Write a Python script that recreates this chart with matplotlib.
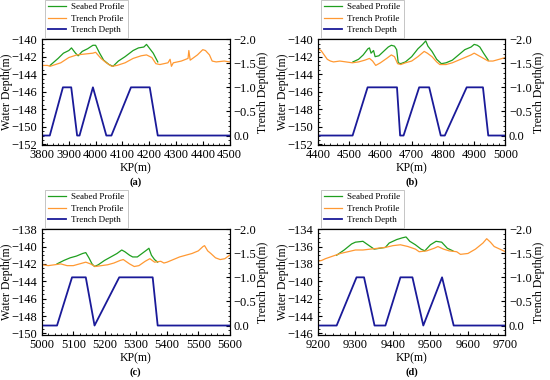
import matplotlib
matplotlib.use('Agg')
import matplotlib.pyplot as plt
from matplotlib.ticker import MultipleLocator, AutoMinorLocator

plt.rcParams['font.family'] = ['Liberation Serif', 'DejaVu Serif']

# ---- panel (a) ----
a_trench_kp = [3800, 3820, 3830, 3870, 3900, 3930, 3960, 3990, 4000, 4020, 4040, 4060, 4080,
               4110, 4140, 4170, 4190, 4210, 4225, 4240, 4270, 4278, 4283, 4290, 4320, 4345,
               4348, 4353, 4380, 4400, 4410, 4425, 4435, 4450, 4480, 4500]
a_trench_z = [-143.0, -143.0, -143.1, -142.7, -142.1, -141.8, -141.7, -141.6, -141.5, -142.2,
              -142.7, -143.1, -143.0, -142.7, -142.2, -141.9, -141.8, -142.1, -142.8, -142.9,
              -142.7, -142.3, -143.1, -142.7, -142.5, -142.2, -141.3, -142.4, -141.8, -141.2,
              -141.3, -141.8, -142.5, -142.6, -142.5, -142.6]
a_seabed_kp = [3830, 3860, 3880, 3900, 3910, 3925, 3935, 3950, 3970, 3990, 4000, 4015, 4030,
               4050, 4065, 4085, 4110, 4140, 4160, 4180, 4190, 4200, 4215, 4232]
a_seabed_z = [-143.0, -142.2, -141.6, -141.3, -141.0, -141.6, -141.9, -141.4, -141.1, -140.7,
              -140.7, -141.6, -142.4, -142.9, -143.1, -142.5, -142.0, -141.3, -141.0, -140.9,
              -140.6, -141.0, -141.6, -142.6]
a_depth_kp = [3800, 3829, 3878, 3909, 3931, 3940, 3990, 4040, 4059, 4132, 4202, 4232, 4500]
a_depth = [0, 0, -1, -1, 0, 0, -1, 0, 0, -1, -1, 0, 0]

# ---- panel (b) ----
b_trench_kp = [4400, 4410, 4420, 4430, 4440, 4450, 4470, 4490, 4510, 4530, 4550, 4565, 4575,
               4585, 4600, 4620, 4635, 4645, 4655, 4665, 4680, 4700, 4720, 4740, 4750, 4765,
               4780, 4790, 4810, 4830, 4850, 4870, 4890, 4900, 4910, 4930, 4945, 4960, 4980, 5000]
b_trench_z = [-141.1, -141.3, -141.8, -142.3, -142.5, -142.6, -142.5, -142.6, -142.7, -142.6,
              -142.4, -142.2, -142.5, -143.0, -142.7, -142.2, -141.8, -142.0, -142.8, -142.9,
              -142.7, -142.5, -142.0, -141.4, -141.6, -142.0, -142.6, -142.9, -142.9, -142.7,
              -142.4, -142.1, -141.8, -141.6, -141.8, -142.2, -142.5, -142.5, -142.3, -142.1]
b_seabed_kp = [4512, 4530, 4545, 4560, 4565, 4570, 4578, 4583, 4595, 4610, 4625, 4635, 4645,
               4652, 4657, 4665, 4680, 4700, 4720, 4735, 4745, 4752, 4765, 4780, 4795, 4810,
               4830, 4850, 4870, 4890, 4900, 4910, 4918, 4930, 4945]
b_seabed_z = [-142.6, -142.3, -141.8, -141.1, -141.0, -141.6, -141.3, -142.0, -141.9, -141.4,
              -140.9, -140.7, -140.8, -141.2, -142.7, -142.8, -142.6, -142.0, -141.1, -140.6,
              -140.2, -140.8, -141.4, -142.3, -142.8, -142.7, -142.4, -141.8, -141.2, -140.9,
              -140.6, -140.7, -140.9, -141.6, -142.4]
b_depth_kp = [4400, 4511, 4559, 4653, 4663, 4674, 4724, 4756, 4793, 4806, 4876, 4928, 4945, 5000]
b_depth = [0, 0, -1, -1, 0, 0, -1, -1, 0, 0, -1, -1, 0, 0]

# ---- panel (c) ----
c_trench_kp = [5000, 5020, 5040, 5060, 5080, 5100, 5120, 5140, 5155, 5170, 5190, 5210, 5230,
               5250, 5260, 5280, 5295, 5310, 5330, 5345, 5360, 5380, 5390, 5400, 5420, 5440,
               5460, 5480, 5500, 5515, 5520, 5530, 5540, 5555, 5570, 5585, 5600]
c_trench_z = [-142.1, -142.2, -142.1, -142.0, -142.2, -142.2, -142.0, -141.8, -142.0, -142.3,
              -142.2, -142.1, -141.9, -141.6, -141.5, -142.0, -142.3, -142.2, -141.7, -141.4,
              -141.8, -141.7, -141.9, -141.8, -141.5, -141.2, -141.0, -140.8, -140.5, -140.0,
              -139.9, -140.5, -140.8, -141.3, -141.5, -141.4, -141.0]
c_seabed_kp = [5048, 5070, 5090, 5110, 5130, 5140, 5150, 5160, 5168, 5180, 5200, 5220, 5240,
               5255, 5265, 5280, 5290, 5305, 5320, 5335, 5342, 5350, 5360, 5370]
c_seabed_z = [-142.0, -141.6, -141.3, -141.1, -140.8, -140.7, -141.3, -142.0, -142.3, -142.1,
              -141.6, -141.2, -140.8, -140.4, -140.6, -141.0, -141.2, -141.2, -140.8, -140.4,
              -140.2, -141.0, -141.5, -141.8]
c_depth_kp = [5000, 5048, 5096, 5140, 5168, 5247, 5354, 5370, 5600]
c_depth = [0, 0, -1, -1, 0, -1, -1, 0, 0]

# ---- panel (d) ----
d_trench_kp = [9200, 9210, 9220, 9240, 9260, 9280, 9300, 9320, 9340, 9360, 9380, 9400, 9420,
               9440, 9460, 9470, 9490, 9510, 9520, 9535, 9550, 9570, 9580, 9600, 9620, 9640,
               9650, 9660, 9670, 9690, 9700]
d_trench_z = [-137.7, -137.6, -137.4, -137.1, -136.8, -136.6, -136.4, -136.4, -136.3, -136.2,
              -136.1, -135.9, -135.8, -136.0, -136.3, -136.6, -136.5, -136.2, -136.0, -136.3,
              -136.5, -136.6, -136.9, -136.8, -136.3, -135.6, -135.1, -135.5, -136.0, -136.4,
              -136.6]
d_seabed_kp = [9250, 9270, 9290, 9300, 9320, 9340, 9350, 9365, 9380, 9390, 9410, 9425, 9435,
               9445, 9460, 9475, 9485, 9500, 9515, 9530, 9545, 9560]
d_seabed_z = [-137.0, -136.4, -135.7, -135.5, -135.4, -136.0, -136.3, -136.2, -136.1, -135.6,
              -135.2, -135.0, -134.9, -135.4, -135.8, -136.3, -136.5, -135.8, -135.4, -135.5,
              -136.2, -136.5]
d_depth_kp = [9200, 9250, 9303, 9323, 9351, 9380, 9420, 9452, 9481, 9531, 9562, 9700]
d_depth = [0, 0, -1, -1, 0, 0, -1, -1, 0, -1, 0, 0]

GREEN = '#1f9f1f'
ORANGE = '#ff9933'
BLUE = '#1a1a99'

fig = plt.figure(figsize=(5.5, 3.8), dpi=100)


def draw_panel(rect, letter, seabed_kp, seabed_z, trench_kp, trench_z, depth_kp, depth,
               xlim, xstep, ylim):
    ax1 = fig.add_axes(rect)
    l1, = ax1.plot(seabed_kp, seabed_z, color=GREEN, lw=0.9)
    l2, = ax1.plot(trench_kp, trench_z, color=ORANGE, lw=0.9)
    ax1.set_xlim(*xlim)
    ax1.set_ylim(*ylim)
    ax1.xaxis.set_major_locator(MultipleLocator(xstep))
    ax1.xaxis.set_minor_locator(AutoMinorLocator(5))
    ax1.yaxis.set_major_locator(MultipleLocator(2))
    ax1.yaxis.set_minor_locator(AutoMinorLocator(4))
    ax1.tick_params(which='both', direction='in', labelsize=9)
    ax1.tick_params(axis='y', pad=3.5)
    ax1.tick_params(axis='x', pad=3)
    ax1.tick_params(which='major', length=3)
    ax1.tick_params(which='minor', length=1.5)
    ax1.set_xlabel('KP(m)', fontsize=8.5, labelpad=1)
    ax1.set_ylabel('Water Depth(m)', fontsize=8.5)
    ax1.yaxis.set_label_coords(-0.153, 0.5)

    ax2 = ax1.twinx()
    l3, = ax2.plot(depth_kp, depth, color=BLUE, lw=1.3)
    ax2.set_ylim(0.2, -2.0)
    ax2.yaxis.set_major_locator(MultipleLocator(0.5))
    ax2.yaxis.set_minor_locator(AutoMinorLocator(5))
    ax2.tick_params(which='both', direction='in', labelsize=9, pad=2.5)
    ax2.tick_params(which='major', length=3)
    ax2.tick_params(which='minor', length=1.5)
    ax2.set_ylabel('Trench Depth(m)', fontsize=8.5)
    ax2.yaxis.set_label_coords(1.147, 0.5)

    leg = ax2.legend([l1, l2, l3], ['Seabed Profile', 'Trench Profile', 'Trench Depth'],
                     loc='upper left', bbox_to_anchor=(0.015, 1.37), borderaxespad=0,
                     fontsize=6.5, handlelength=2.0, labelspacing=0.35, borderpad=0.35,
                     handletextpad=0.6, fancybox=False, framealpha=1)
    leg.get_frame().set_edgecolor('#bbbbbb')
    leg.get_frame().set_linewidth(0.6)

    fig.text(rect[0] + rect[2] / 2, rect[1] - 0.097, letter, ha='center', va='center',
             fontsize=7.5, fontweight='bold')


W, H = 0.341, 0.279
draw_panel([0.0764, 0.618, W, H], '(a)', a_seabed_kp, a_seabed_z, a_trench_kp, a_trench_z,
           a_depth_kp, a_depth, (3800, 4500), 100, (-152.1, -140))
draw_panel([0.578, 0.618, W, H], '(b)', b_seabed_kp, b_seabed_z, b_trench_kp, b_trench_z,
           b_depth_kp, b_depth, (4400, 5000), 100, (-152.1, -140))
draw_panel([0.0764, 0.118, W, H], '(c)', c_seabed_kp, c_seabed_z, c_trench_kp, c_trench_z,
           c_depth_kp, c_depth, (5000, 5600), 100, (-150.2, -138))
draw_panel([0.578, 0.118, W, H], '(d)', d_seabed_kp, d_seabed_z, d_trench_kp, d_trench_z,
           d_depth_kp, d_depth, (9200, 9700), 100, (-146.2, -134))

fig.savefig('out.png', dpi=100)
